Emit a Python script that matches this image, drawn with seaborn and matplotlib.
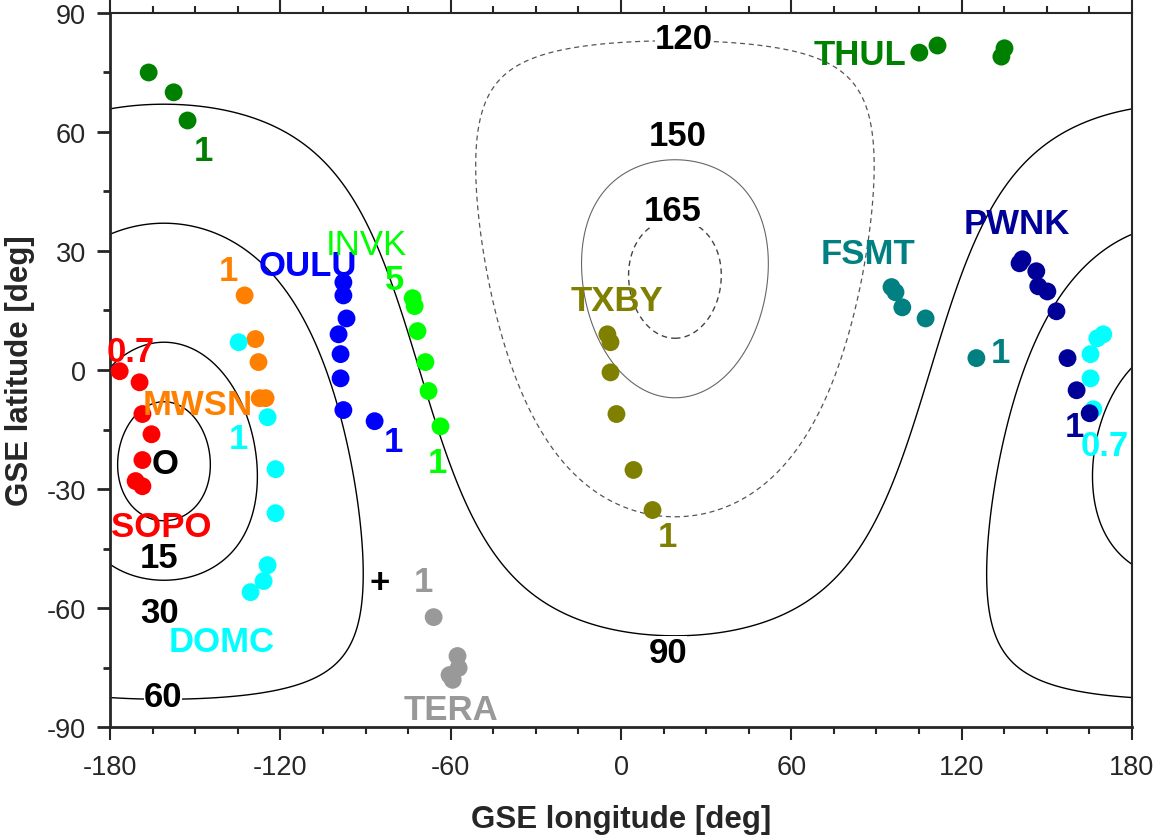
import numpy as np
import pandas as pd
import matplotlib
matplotlib.use('Agg')
import matplotlib.pyplot as plt
import seaborn as sns

sns.set_style('ticks')
plt.rcParams['font.family'] = ['Liberation Sans', 'DejaVu Sans']
plt.rcParams['axes.unicode_minus'] = False

# station points (GSE longitude / latitude, deg)
thul_lon = [-166.4, -157.6, -152.7, 105.1, 111.5, 134.0, 135.1]
thul_lat = [75.0, 70.0, 62.9, 80.0, 81.8, 79.0, 81.1]
sopo_lon = [-176.6, -169.6, -168.6, -165.4, -168.6, -171.0, -168.6]
sopo_lat = [-0.3, -3.1, -11.1, -16.2, -22.7, -28.0, -29.3]
mwsn_lon = [-132.6, -128.8, -127.7, -127.3, -125.2]
mwsn_lat = [18.8, 7.8, 2.0, -7.1, -7.1]
domc_lon = [-134.7, -124.5, -121.7, -121.7, -124.5, -125.9, -130.5, 169.9, 167.8, 165.4, 165.4, 166.4]
domc_lat = [7.0, -11.9, -25.0, -36.1, -49.2, -53.2, -56.0, 9.0, 8.0, 4.0, -2.1, -9.9]
pwnk_lon = [140.4, 141.4, 146.3, 147.0, 150.2, 153.4, 157.3, 160.5, 165.1]
pwnk_lat = [26.9, 27.9, 24.9, 21.1, 19.8, 14.8, 3.0, -5.1, -10.9]
fsmt_lon = [95.3, 96.7, 99.1, 107.3, 125.2]
fsmt_lat = [20.9, 19.6, 15.8, 13.0, 3.0]
oulu_lon = [-97.8, -97.8, -96.7, -99.5, -98.8, -98.8, -97.8, -86.8]
oulu_lat = [22.1, 18.8, 13.0, 9.0, 4.0, -2.1, -10.1, -12.9]
invk_lon = [-73.4, -72.7, -71.7, -68.9, -67.8, -63.6]
invk_lat = [18.1, 16.1, 9.8, 2.0, -5.3, -14.2]
txby_lon = [-4.8, -3.7, -3.7, -1.6, 4.4, 11.1]
txby_lat = [9.0, 7.0, -0.6, -11.1, -25.2, -35.3]
tera_lon = [-66.0, -57.6, -57.2, -60.4, -59.3]
tera_lat = [-62.3, -72.1, -75.1, -76.9, -78.1]

station_colors = {
    'THUL': '#008000', 'SOPO': '#FF0000', 'MWSN': '#FF8000', 'DOMC': '#00FFFF',
    'PWNK': '#000099', 'FSMT': '#008080', 'OULU': '#0000FF', 'INVK': '#00FF00',
    'TXBY': '#808000', 'TERA': '#999999',
}

# contours of angular distance from this direction (the "O")
center_lon, center_lat = -161.0, -23.0
solid_levels = [15, 30, 60, 90]

# text labels: (text, lon, lat, colour, weight)
labels = [
    ('THUL', 84.2, 80.4, '#008000', 'bold'), ('1', -147.2, 56.2, '#008000', 'bold'),
    ('0.7', -172.6, 5.6, '#FF0000', 'bold'), ('SOPO', -162.0, -38.6, '#FF0000', 'bold'),
    ('MWSN', -149.0, -7.8, '#FF8000', 'bold'), ('1', -138.4, 26.0, '#FF8000', 'bold'),
    ('DOMC', -140.5, -67.6, '#00FFFF', 'bold'), ('1', -134.6, -16.4, '#00FFFF', 'bold'),
    ('0.7', 170.5, -18.1, '#00FFFF', 'bold'),
    ('OULU', -110.3, 27.2, '#0000FF', 'bold'), ('1', -80.3, -17.1, '#0000FF', 'bold'),
    ('INVK', -89.8, 32.5, '#00FF00', 'normal'), ('5', -79.6, 23.7, '#00FF00', 'bold'),
    ('1', -64.5, -22.4, '#00FF00', 'bold'),
    ('TXBY', -1.4, 18.4, '#808000', 'bold'), ('1', 16.5, -41.1, '#808000', 'bold'),
    ('TERA', -59.9, -84.7, '#999999', 'bold'), ('1', -69.7, -52.4, '#999999', 'bold'),
    ('FSMT', 87.0, 30.3, '#008080', 'bold'), ('1', 133.5, 5.3, '#008080', 'bold'),
    ('PWNK', 139.5, 37.8, '#000099', 'bold'), ('1', 159.6, -13.4, '#000099', 'bold'),
    ('O', -160.6, -22.7, 'black', 'bold'), ('+', -84.9, -52.7, 'black', 'bold'),
]
contour_labels = [('15', -162.7, -46.4), ('30', -162.7, -60.2), ('60', -161.3, -81.4),
                  ('90', 16.5, -70.3), ('120', 22.2, 84.5), ('150', 20.1, 60.0),
                  ('165', 18.3, 41.1)]

# build the table for seaborn (DOMC before PWNK so the navy dots sit on top)
order = [('THUL', thul_lon, thul_lat), ('SOPO', sopo_lon, sopo_lat),
         ('MWSN', mwsn_lon, mwsn_lat), ('DOMC', domc_lon, domc_lat),
         ('PWNK', pwnk_lon, pwnk_lat), ('FSMT', fsmt_lon, fsmt_lat),
         ('OULU', oulu_lon, oulu_lat), ('INVK', invk_lon, invk_lat),
         ('TXBY', txby_lon, txby_lat), ('TERA', tera_lon, tera_lat)]
df = pd.concat([pd.DataFrame({'station': name, 'lon': lo, 'lat': la})
                for name, lo, la in order], ignore_index=True)

fig = plt.figure(figsize=(11.56, 8.37), dpi=100)
ax = fig.add_axes([0.0952, 0.1302, 0.8840, 0.8531])

# angular distance field
glon, glat = np.meshgrid(np.linspace(-180, 180, 721), np.linspace(-90, 90, 361))
p, p0 = np.radians(glat), np.radians(center_lat)
dl = np.radians(glon - center_lon)
dist = np.degrees(np.arccos(np.clip(np.sin(p) * np.sin(p0) + np.cos(p) * np.cos(p0) * np.cos(dl), -1, 1)))

ax.contour(glon, glat, dist, levels=solid_levels, colors='black', linewidths=1.0, zorder=1)
ax.contour(glon, glat, dist, levels=[120], colors='#555555', linewidths=0.9,
           linestyles=[(0, (4, 3))], zorder=1)
ax.contour(glon, glat, dist, levels=[150], colors='#666666', linewidths=0.8, zorder=1)
ax.contour(glon, glat, dist, levels=[165], colors='#444444', linewidths=1.0,
           linestyles=[(0, (4, 3))], zorder=1)

sns.scatterplot(data=df, x='lon', y='lat', hue='station', palette=station_colors,
                s=165, linewidth=0, legend=False, ax=ax, zorder=3)

for txt, lo, la, col, w in labels:
    ax.text(lo, la, txt, color=col, fontsize=25, fontweight=w,
            ha='center', va='center_baseline', zorder=4)
for txt, lo, la in contour_labels:
    ax.text(lo, la, txt, color='black', fontsize=25, fontweight='bold',
            ha='center', va='center_baseline', zorder=2,
            bbox=dict(facecolor='white', edgecolor='none', pad=0))

ax.set_xlim(-180, 180)
ax.set_ylim(-90, 90)
ax.set_xticks(np.arange(-180, 181, 60))
ax.set_yticks(np.arange(-90, 91, 30))
ax.set_xticks(np.arange(-180, 181, 15), minor=True)
ax.set_yticks(np.arange(-90, 91, 15), minor=True)
ax.tick_params(axis='x', which='both', direction='out', top=True, bottom=True,
               labeltop=False, width=1.5, labelsize=19.5, pad=10)
ax.tick_params(axis='y', which='both', direction='out', left=True, right=False,
               width=2, labelsize=19.5, pad=8)
ax.tick_params(which='major', length=9.5)
ax.tick_params(which='minor', length=5)
for side in ['left', 'bottom']:
    ax.spines[side].set_linewidth(2)
for side in ['top', 'right']:
    ax.spines[side].set_linewidth(1.5)
    ax.spines[side].set_visible(True)

ax.set_xlabel('GSE longitude [deg]', fontsize=22.5, fontweight='bold', labelpad=17)
ax.set_ylabel('GSE latitude [deg]', fontsize=22.5, fontweight='bold', labelpad=8)

fig.savefig('out.png', dpi=100)
